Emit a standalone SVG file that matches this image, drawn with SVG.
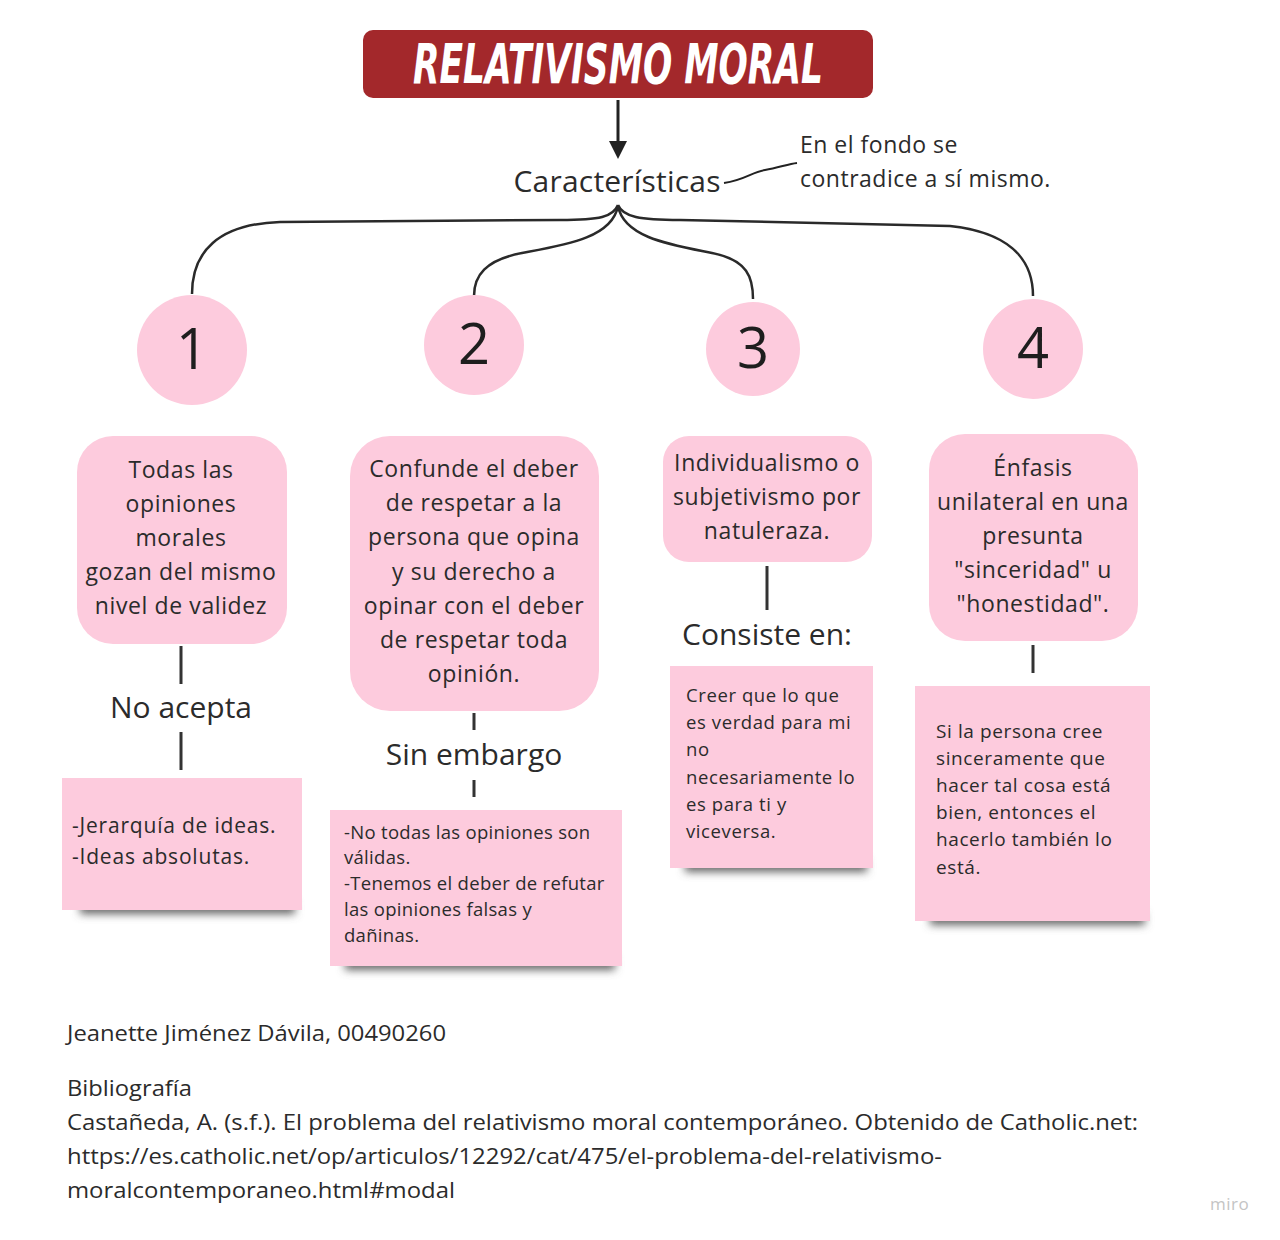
<svg xmlns="http://www.w3.org/2000/svg" width="1280" height="1240" viewBox="0 0 1280 1240">
<style>
.t{font-family:"Open Sans","DejaVu Sans",sans-serif;fill:#2b2b2b}
.card{fill:#fdcbdd}
.circ{fill:#fdcbdd}
.num{font-family:"Open Sans","DejaVu Sans",sans-serif;font-size:56px;fill:#1e1e1e;text-anchor:middle}
.ct{font-size:23px;letter-spacing:0.6px;text-anchor:middle}
.lbl{font-size:30px;text-anchor:middle}
.nt{font-size:18.5px;letter-spacing:0.3px}
.vl{stroke:#333;stroke-width:3;fill:none}
.br{stroke:#2a2a2a;stroke-width:2.5;fill:none}
.sh{fill:#666;filter:url(#blur)}
.ft{font-size:22px}
</style>
<defs>
<marker id="ah" markerWidth="18" markerHeight="18" refX="9" refY="9" orient="auto" markerUnits="userSpaceOnUse" viewBox="0 0 18 18">
<path d="M0,0 L18,9 L0,18 Z" fill="#222"/>
</marker>
<filter id="blur" x="-20%" y="-100%" width="140%" height="300%"><feGaussianBlur stdDeviation="4"/></filter>
</defs>
<rect width="1280" height="1240" fill="#fff"/>

<g id="title">
<rect x="363" y="30" width="510" height="68" rx="10" fill="#a3282b"/>
<text x="618" y="83" text-anchor="middle" font-family="Liberation Sans Narrow,DejaVu Sans Condensed,sans-serif" font-weight="bold" font-style="italic" font-size="56" fill="#fff" textLength="410" lengthAdjust="spacingAndGlyphs">RELATIVISMO MORAL</text>
</g>

<g id="connectors">
<path d="M618,100 L618,150" stroke="#222" stroke-width="3" fill="none" marker-end="url(#ah)"/>
<path d="M724,183 C745,180 752,172 765,170 C778,168 788,164 797,163" stroke="#222" stroke-width="2" fill="none"/>
<path class="br" d="M618,205 C613,217 600,220 560,220 L280,222 C218,224 192,252 192,294"/>
<path class="br" d="M618,205 C623,217 640,220 680,220 L950,226 C1005,232 1033,256 1033,296"/>
<path class="br" d="M618,206 C612,238 565,245 522,253 C485,260 474,276 474,296"/>
<path class="br" d="M618,206 C624,238 672,245 712,253 C748,260 753,278 753,299"/>
<path class="vl" d="M181,646 V684 M181,732 V770"/>
<path class="vl" d="M474,713 V730 M474,780 V797"/>
<path class="vl" d="M767,566 V610"/>
<path class="vl" d="M1033,645 V673"/>
</g>

<g id="caracteristicas">
<text class="t lbl" x="617" y="192" textLength="207" lengthAdjust="spacing">Características</text>
</g>
<g id="nota-fondo">
<text class="t" font-size="23" letter-spacing="0.5" x="800" y="153">En el fondo se</text>
<text class="t" font-size="23" letter-spacing="0.5" x="800" y="187">contradice a sí mismo.</text>
</g>

<g id="c1"><circle class="circ" cx="192" cy="350" r="55"/><text class="num" x="192" y="369">1</text></g>
<g id="c2"><circle class="circ" cx="474" cy="345" r="50"/><text class="num" x="474" y="364">2</text></g>
<g id="c3"><circle class="circ" cx="753" cy="349" r="47"/><text class="num" x="753" y="368">3</text></g>
<g id="c4"><circle class="circ" cx="1033" cy="349" r="50"/><text class="num" x="1033" y="368">4</text></g>

<g id="card1">
<rect class="card" x="77" y="436" width="210" height="208" rx="36"/>
<text class="t ct" x="181" y="478">Todas las</text>
<text class="t ct" x="181" y="512">opiniones</text>
<text class="t ct" x="181" y="546">morales</text>
<text class="t ct" x="181" y="580">gozan del mismo</text>
<text class="t ct" x="181" y="614">nivel de validez</text>
</g>
<g id="card2">
<rect class="card" x="350" y="436" width="249" height="275" rx="40"/>
<text class="t ct" x="474" y="477">Confunde el deber</text>
<text class="t ct" x="474" y="511">de respetar a la</text>
<text class="t ct" x="474" y="545">persona que opina</text>
<text class="t ct" x="474" y="580">y su derecho a</text>
<text class="t ct" x="474" y="614">opinar con el deber</text>
<text class="t ct" x="474" y="648">de respetar toda</text>
<text class="t ct" x="474" y="682">opinión.</text>
</g>
<g id="card3">
<rect class="card" x="663" y="436" width="209" height="126" rx="26"/>
<text class="t ct" x="767" y="471">Individualismo o</text>
<text class="t ct" x="767" y="505">subjetivismo por</text>
<text class="t ct" x="767" y="539">natuleraza.</text>
</g>
<g id="card4">
<rect class="card" x="929" y="434" width="209" height="207" rx="36"/>
<text class="t ct" x="1033" y="476">Énfasis</text>
<text class="t ct" x="1033" y="510">unilateral en una</text>
<text class="t ct" x="1033" y="544">presunta</text>
<text class="t ct" x="1033" y="578">"sinceridad" u</text>
<text class="t ct" x="1033" y="612">"honestidad".</text>
</g>

<g id="lbl-noacepta"><text class="t lbl" x="181" y="718">No acepta</text></g>
<g id="lbl-sinembargo"><text class="t lbl" x="474" y="765">Sin embargo</text></g>
<g id="lbl-consiste"><text class="t lbl" x="767" y="645">Consiste en:</text></g>

<g id="note1">
<rect class="sh" x="80" y="902" width="215" height="12"/>
<rect class="card" x="62" y="778" width="240" height="132"/>
<text class="t" font-size="21" letter-spacing="0.8" x="72" y="833">-Jerarquía de ideas.</text>
<text class="t" font-size="21" letter-spacing="0.8" x="72" y="864">-Ideas absolutas.</text>
</g>
<g id="note2">
<rect class="sh" x="345" y="958" width="270" height="12"/>
<rect class="card" x="330" y="810" width="292" height="156"/>
<text class="t nt" x="344" y="839">-No todas las opiniones son</text>
<text class="t nt" x="344" y="864">válidas.</text>
<text class="t nt" x="344" y="890">-Tenemos el deber de refutar</text>
<text class="t nt" x="344" y="916">las opiniones falsas y</text>
<text class="t nt" x="344" y="942">dañinas.</text>
</g>
<g id="note3">
<rect class="sh" x="685" y="860" width="182" height="12"/>
<rect class="card" x="670" y="666" width="203" height="202"/>
<text class="t" font-size="18.5" letter-spacing="0.6" x="686" y="702">Creer que lo que</text>
<text class="t" font-size="18.5" letter-spacing="0.6" x="686" y="729">es verdad para mi</text>
<text class="t" font-size="18.5" letter-spacing="0.6" x="686" y="756">no</text>
<text class="t" font-size="18.5" letter-spacing="0.6" x="686" y="784">necesariamente lo</text>
<text class="t" font-size="18.5" letter-spacing="0.6" x="686" y="811">es para ti y</text>
<text class="t" font-size="18.5" letter-spacing="0.6" x="686" y="838">viceversa.</text>
</g>
<g id="note4">
<rect class="sh" x="930" y="913" width="215" height="12"/>
<rect class="card" x="915" y="686" width="235" height="235"/>
<text class="t" font-size="19" letter-spacing="0.6" x="936" y="738">Si la persona cree</text>
<text class="t" font-size="19" letter-spacing="0.6" x="936" y="765">sinceramente que</text>
<text class="t" font-size="19" letter-spacing="0.6" x="936" y="792">hacer tal cosa está</text>
<text class="t" font-size="19" letter-spacing="0.6" x="936" y="819">bien, entonces el</text>
<text class="t" font-size="19" letter-spacing="0.6" x="936" y="846">hacerlo también lo</text>
<text class="t" font-size="19" letter-spacing="0.6" x="936" y="874">está.</text>
</g>

<g id="footer">
<text class="t ft" x="67" y="1041" textLength="379" lengthAdjust="spacingAndGlyphs">Jeanette Jiménez Dávila, 00490260</text>
<text class="t ft" x="67" y="1096" textLength="125" lengthAdjust="spacingAndGlyphs">Bibliografía</text>
<text class="t ft" x="67" y="1130" textLength="1071" lengthAdjust="spacingAndGlyphs">Castañeda, A. (s.f.). El problema del relativismo moral contemporáneo. Obtenido de Catholic.net:</text>
<text class="t ft" x="67" y="1164" textLength="875" lengthAdjust="spacingAndGlyphs">https://es.catholic.net/op/articulos/12292/cat/475/el-problema-del-relativismo-</text>
<text class="t ft" x="67" y="1198" textLength="388" lengthAdjust="spacingAndGlyphs">moralcontemporaneo.html#modal</text>
<text x="1210" y="1210" font-family="Open Sans,sans-serif" font-size="17" letter-spacing="0.5" fill="#c4c4c4">miro</text>
</g>
</svg>
